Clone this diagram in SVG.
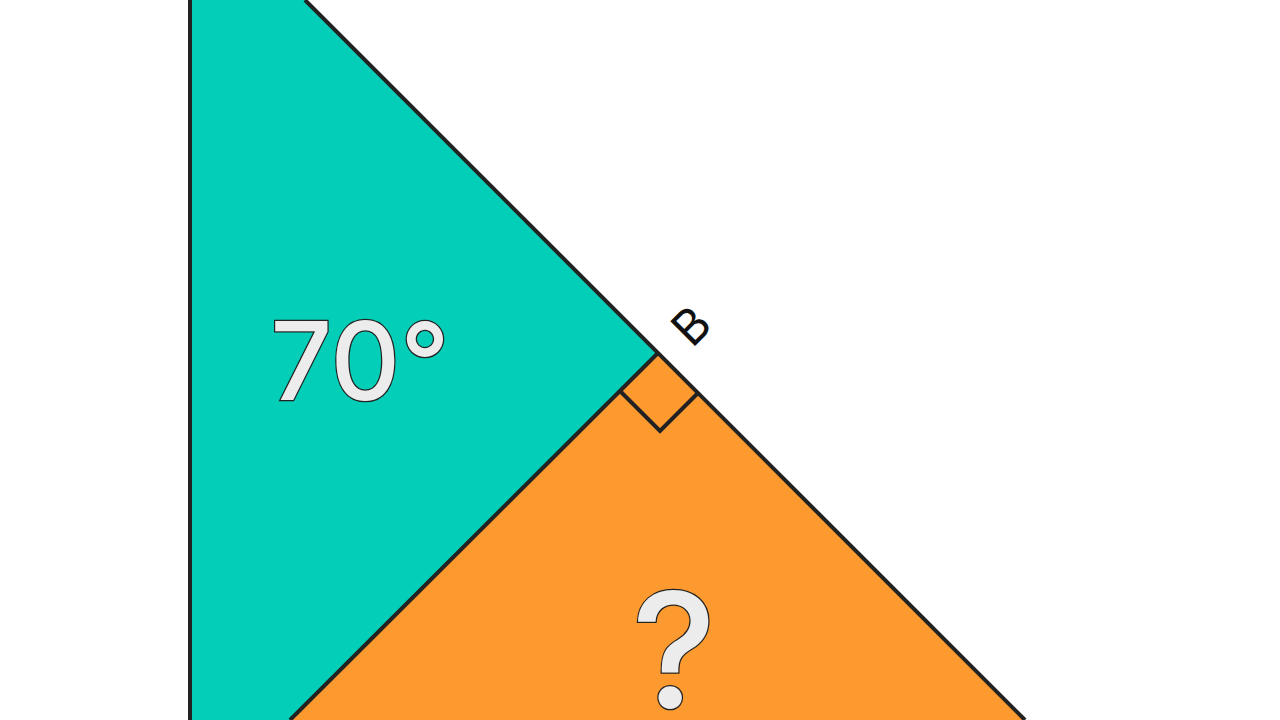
<svg xmlns="http://www.w3.org/2000/svg" width="1280" height="720" viewBox="0 0 1280 720">
<style>
.edge{fill:none;stroke:#222;stroke-width:4;stroke-linejoin:miter}
.big{font-family:"Inter","Open Sans",sans-serif;font-weight:500;fill:#ececec;stroke:#222;stroke-width:2.5;paint-order:stroke}
.lbl{font-family:"Inter","Open Sans",sans-serif;font-weight:400;fill:#111;}
</style>
<rect width="1280" height="720" fill="#fff"/>
<g id="teal-region">
<polygon points="190,0 305,0 659,352 290,720 190,720" fill="#03CEB7"/>
<text class="big" x="360" y="400" font-size="108" text-anchor="middle">70°</text>
</g>
<g id="orange-region">
<polygon points="659,352 1025,720 290,720" fill="#FD9A2F"/>
<text class="big" x="674" y="708" font-size="160" text-anchor="middle">?</text>
</g>
<g id="label-B">
<text class="lbl" x="0" y="0" font-size="48" text-anchor="middle" transform="translate(703,338) rotate(-45)">B</text>
</g>
<g id="connectors">
<line class="edge" x1="190" y1="0" x2="190" y2="720"/>
<line class="edge" x1="305" y1="0" x2="1025" y2="720"/>
<line class="edge" x1="659" y1="352" x2="290" y2="720"/>
<polyline class="edge" stroke-width="3" points="621,392 660,431 699,392"/>
</g>
</svg>
